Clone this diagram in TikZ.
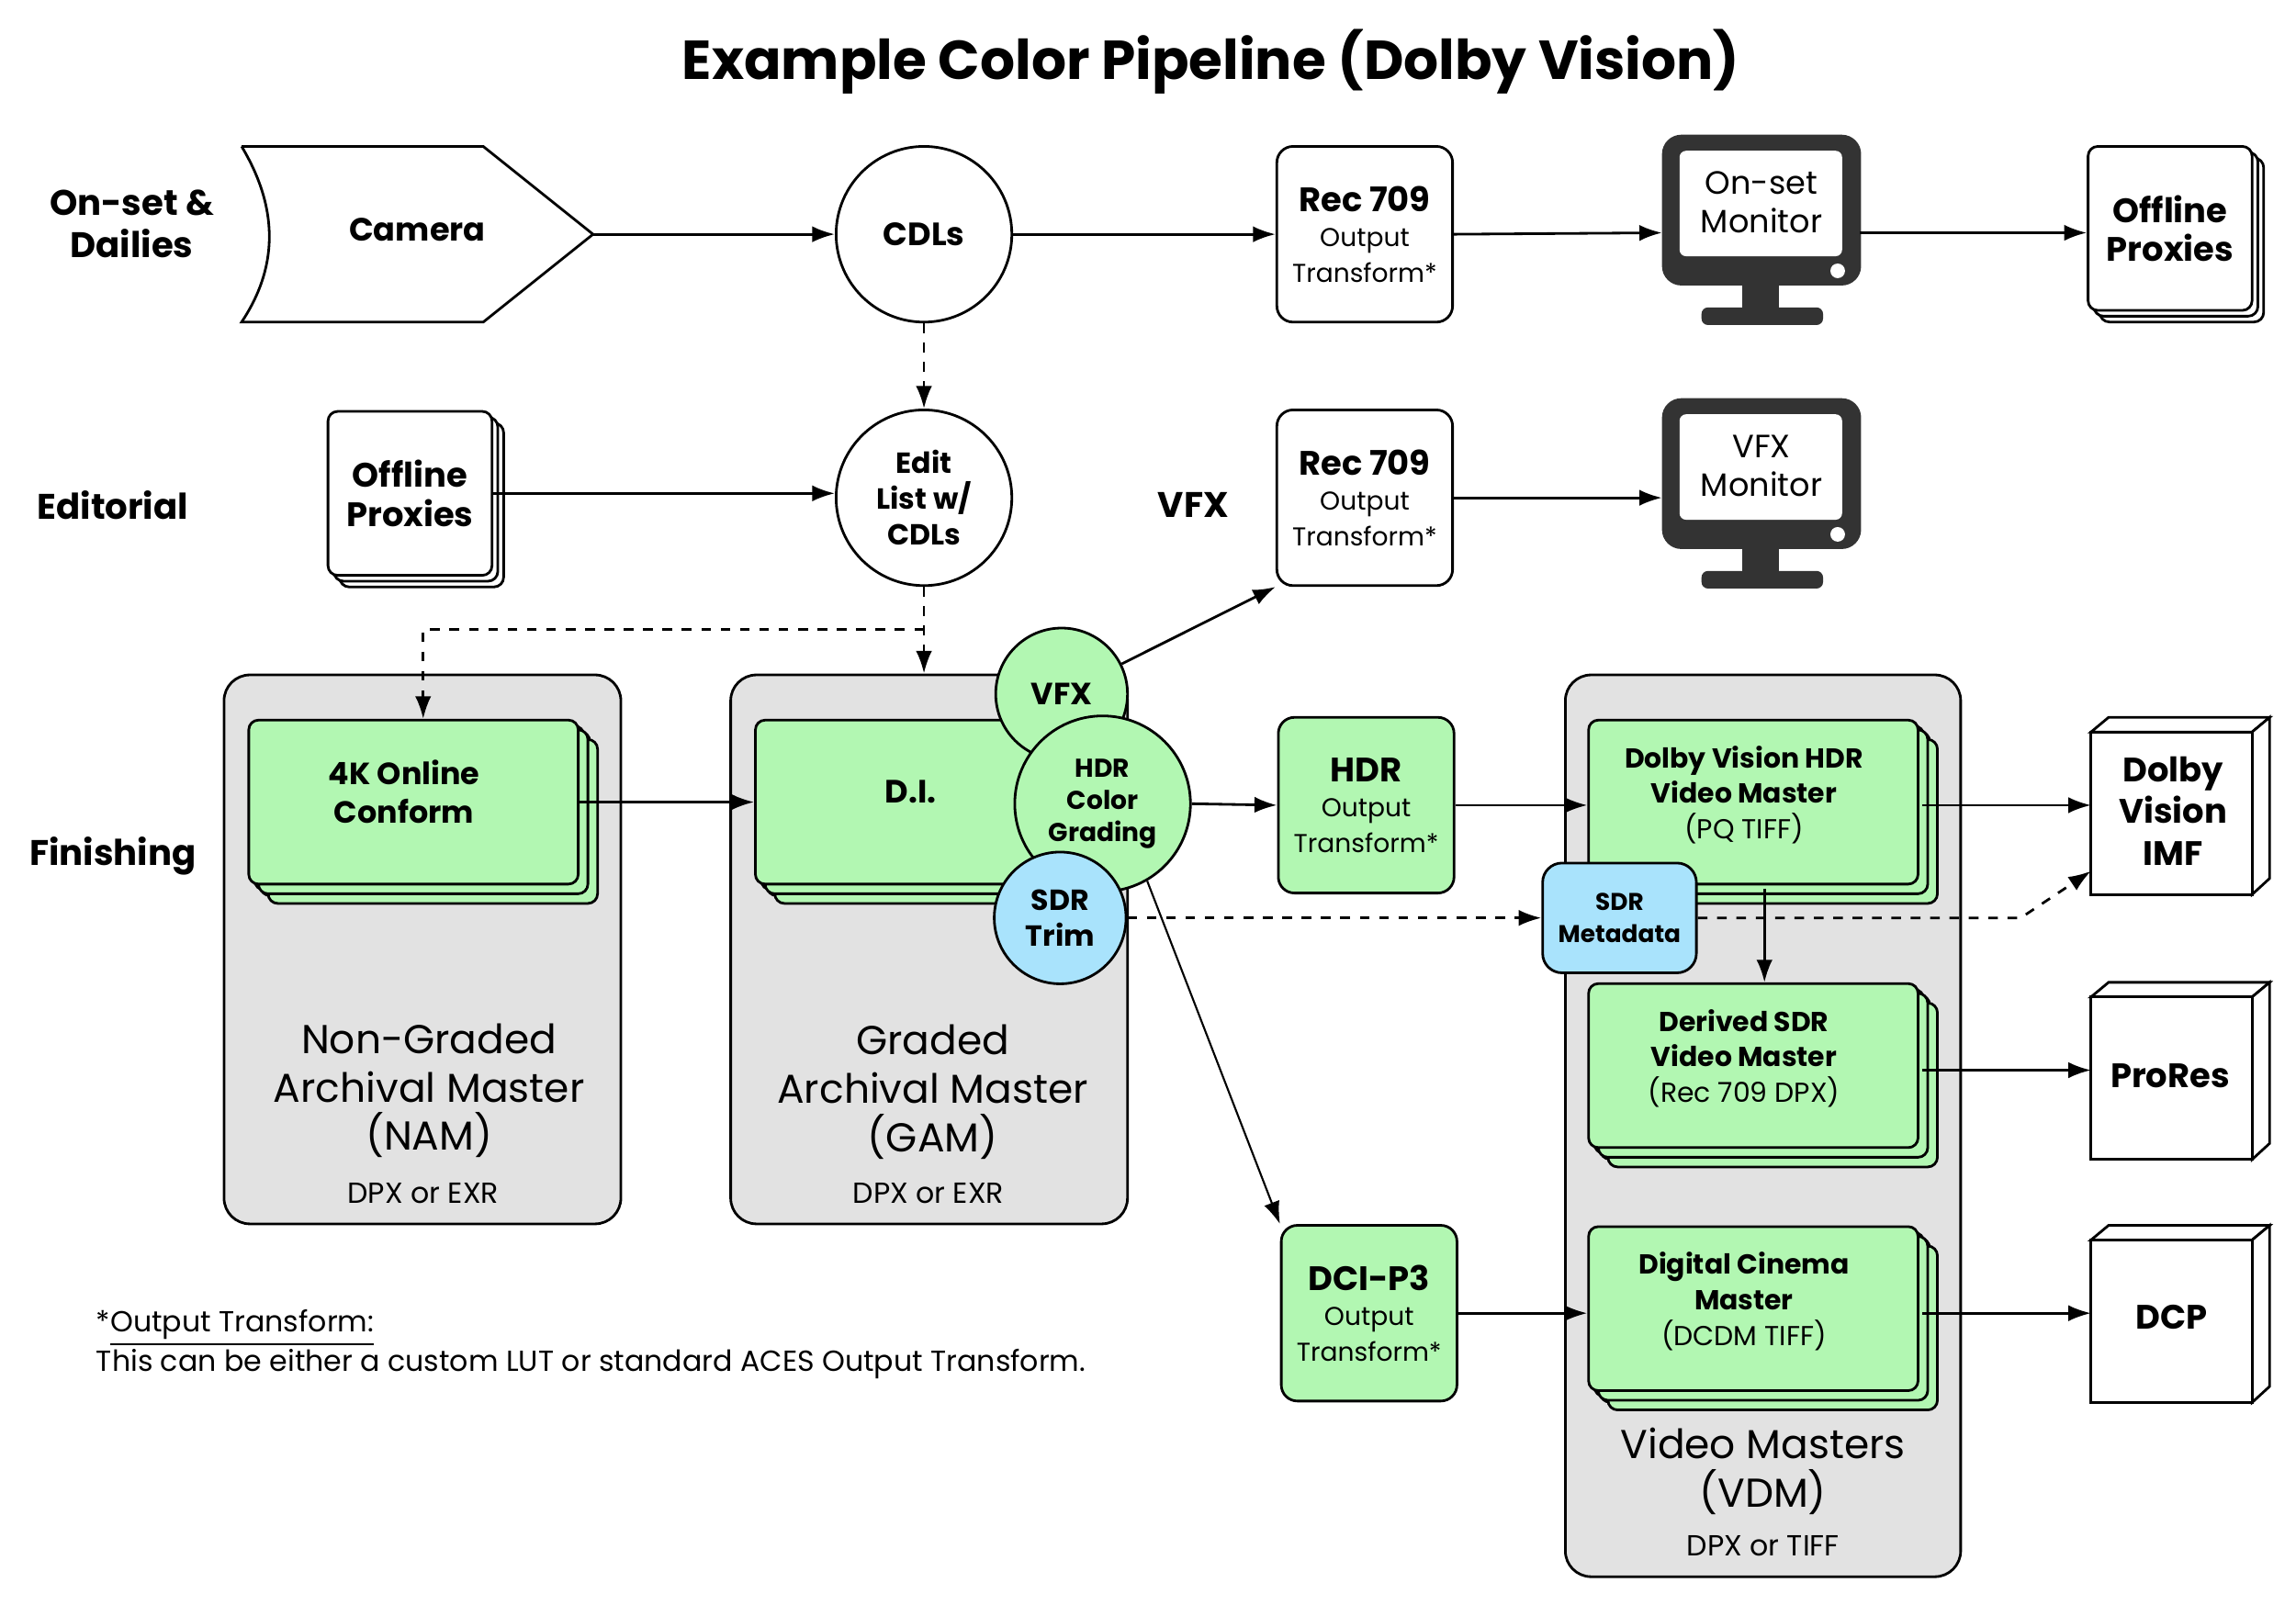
\documentclass[tikz,border=0pt]{standalone}
\usepackage{fontspec}
\setmainfont{Poppins}
\usetikzlibrary{arrows.meta,shadows,positioning}
\definecolor{mgreen}{HTML}{B2F7B2}
\definecolor{mblue}{HTML}{A9E3FC}
\definecolor{mgray}{HTML}{E2E2E2}
\definecolor{mdark}{HTML}{333333}
\newcommand{\pxu}{0.01594cm}
\tikzset{
  every node/.style={font=\fontsize{9}{11}\selectfont, align=center},
  arr/.style={-{Latex[length=7pt,width=5pt]}, thick},
  darr/.style={arr, dashed},
  box/.style={draw, thick, rounded corners=5pt, fill=white, minimum width=120*\pxu, minimum height=120*\pxu},
  circ/.style={draw, thick, circle, fill=white, minimum size=120*\pxu, inner sep=0pt},
  small circ/.style={circ, minimum size=90*\pxu},
  stack/.style={draw, thick, rounded corners=3pt, fill=white, minimum width=112*\pxu, minimum height=112*\pxu,
    double copy shadow={shadow xshift=1.8pt, shadow yshift=-1.8pt}},
  master/.style={stack, fill=mgreen, minimum width=225*\pxu, minimum height=112*\pxu,
    double copy shadow={shadow xshift=3pt, shadow yshift=-3pt}},
  panel/.style={draw, thick, rounded corners=8pt, fill=mgray},
  lab/.style={font=\fontsize{11}{13}\selectfont\bfseries},
  big/.style={font=\fontsize{12.5}{15}\selectfont},
}
\newcommand{\monitor}[2]{% center x, top y
  \fill[mdark, rounded corners=6pt] (#1-68,#2) rectangle (#1+68,#2+103);
  \fill[white, rounded corners=2pt] (#1-56,#2+11) rectangle (#1+55,#2+83);
  \fill[white] (#1+52,#2+93) circle (5);
  \fill[mdark] (#1-13,#2+103) rectangle (#1+12,#2+118);
  \fill[mdark, rounded corners=2pt] (#1-41,#2+118) rectangle (#1+42,#2+130);
}
\newcommand{\cube}[3]{% left x, top y, name
  \draw[thick, fill=white] (#1,#2+10) -- (#1+12,#2) -- (#1+122,#2) -- (#1+110,#2+10) -- cycle;
  \draw[thick, fill=white] (#1+110,#2+10) -- (#1+122,#2) -- (#1+122,#2+110) -- (#1+110,#2+121) -- cycle;
  \draw[thick, fill=white] (#1,#2+10) rectangle (#1+110,#2+121);
  \coordinate (#3) at (#1,#2+65);
}
\newcommand{\outtxt}[1]{{\fontsize{10.5}{12}\selectfont\bfseries #1}\\{\fontsize{8}{10}\selectfont Output}\\{\fontsize{8}{10}\selectfont Transform*}}
\begin{document}
\begin{tikzpicture}[x=\pxu, y=-\pxu]
\useasboundingbox (0,0) rectangle (1568,1096);
\node[font=\fontsize{17}{20}\selectfont\bfseries] (title) at (827,42) {Example Color Pipeline (Dolby Vision)};
%row labels
\node[lab] (onset) at (90,153) {On-set \&\\Dailies};
\node[lab] (editorial) at (77,345) {Editorial};
\node[lab] (finishing) at (77,585) {Finishing};
\node[lab] (vfxlab) at (815,345) {VFX};
%on-set row
\draw[thick] (165,100) -- (330,100) -- (405,160) -- (330,220) -- (165,220)
  .. controls (185,190) and (195,150) .. (165,100);
\node[font=\fontsize{10}{12}\selectfont\bfseries] (camera) at (285,157) {Camera};
\coordinate (camtip) at (405,160);
\node[circ, font=\fontsize{10}{12}\selectfont\bfseries] (cdl) at (631,160) {CDLs};
\node[box] (rec1) at (932,160) {\outtxt{Rec 709}};
\monitor{1203}{92}
\node[font=\fontsize{10}{12}\selectfont] (mon1) at (1203,138) {On-set\\Monitor};
\coordinate (mon1w) at (1135,159);
\coordinate (mon1e) at (1270,159);
\node[stack, font=\fontsize{10.5}{12}\selectfont\bfseries] (prox1) at (1482,156) {Offline\\Proxies};
%editorial row
\node[stack, font=\fontsize{10.5}{12}\selectfont\bfseries] (prox2) at (280,337) {Offline\\Proxies};
\node[circ, font=\fontsize{9}{11}\selectfont\bfseries] (edit) at (631,340) {Edit\\List w/\\CDLs};
\node[box] (rec2) at (932,340) {\outtxt{Rec 709}};
\monitor{1203}{272}
\node[font=\fontsize{10}{12}\selectfont] (mon2) at (1203,318) {VFX\\Monitor};
\coordinate (mon2w) at (1135,340);
%finishing panels
\draw[panel] (153,461) rectangle (424,836);
\draw[panel] (499,461) rectangle (770,836);
\draw[panel] (1069,461) rectangle (1339,1077);
\node[big] (namlab) at (293,745) {Non-Graded\\Archival Master\\(NAM)};
\node (namfmt) at (289,815) {DPX or EXR};
\node[big] (gamlab) at (637,746) {Graded\\Archival Master\\(GAM)};
\node (gamfmt) at (634,815) {DPX or EXR};
\node[big] (vdmlab) at (1204,1005) {Video Masters\\(VDM)};
\node (vdmfmt) at (1204,1056) {DPX or TIFF};
\node[master, anchor=north west] (conform) at (169,491) {};
\node[font=\fontsize{9.5}{12}\selectfont\bfseries] (conformtxt) at (276,541) {4K Online\\Conform};
\node[master, anchor=north west] (di) at (515,491) {};
\node[font=\fontsize{10}{12}\selectfont\bfseries] (ditxt) at (622,541) {D.I.};
\node[small circ, fill=mgreen, font=\fontsize{9.5}{11}\selectfont\bfseries] (vfx) at (725,474) {VFX};
\node[circ, fill=mgreen, font=\fontsize{8}{10}\selectfont\bfseries] (hdrgrade) at (753,549) {HDR\\Color\\Grading};
\node[small circ, fill=mblue, font=\fontsize{9}{11}\selectfont\bfseries] (sdrtrim) at (724,627) {SDR\\Trim};
\node[box, fill=mgreen] (hdrout) at (933,550) {\outtxt{HDR}};
\node[box, fill=mgreen] (dcip3) at (935,897) {\outtxt{DCI-P3}};
\node[master, anchor=north west] (dolby) at (1084,491) {};
\node[font=\fontsize{8.5}{11}\selectfont] (dolbytxt) at (1191,543) {\textbf{Dolby Vision HDR}\\\textbf{Video Master}\\(PQ TIFF)};
\node[master, anchor=north west] (derived) at (1084,671) {};
\node[font=\fontsize{8.5}{11}\selectfont] (derivedtxt) at (1191,723) {\textbf{Derived SDR}\\\textbf{Video Master}\\(Rec 709 DPX)};
\node[master, anchor=north west] (cinema) at (1084,837) {};
\node[font=\fontsize{8.5}{11}\selectfont] (cinematxt) at (1191,889) {\textbf{Digital Cinema}\\\textbf{Master}\\(DCDM TIFF)};
\node[draw, thick, rounded corners=6pt, fill=mblue, minimum width=105*\pxu, minimum height=75*\pxu, font=\fontsize{7.5}{10}\selectfont\bfseries] (sdrmeta) at (1106,627) {SDR\\Metadata};
%outputs
\cube{1428}{490}{imf}
\node[font=\fontsize{10.5}{13}\selectfont\bfseries] (imftxt) at (1484,554) {Dolby\\Vision\\IMF};
\cube{1428}{671}{prores}
\node[font=\fontsize{10.5}{13}\selectfont\bfseries] (prorestxt) at (1482,735) {ProRes};
\cube{1428}{837}{dcp}
\node[font=\fontsize{10.5}{13}\selectfont\bfseries] (dcptxt) at (1483,900) {DCP};
%footnote
\node[anchor=north west, align=left, font=\fontsize{9}{11}\selectfont] (foot) at (58,887) {*\underline{Output Transform:}\\This can be either a custom LUT or standard ACES Output Transform.};
%connectors
\draw[arr] (camtip) -- (cdl);
\draw[arr] (cdl) -- (rec1);
\draw[arr] (rec1.east) -- (mon1w);
\draw[arr] (mon1e) -- (prox1.west |- mon1e);
\draw[darr] (cdl) -- (edit);
\draw[arr] (prox2.east) -- (edit.west |- prox2.east);
\draw[arr] (rec2.east) -- (mon2w);
\coordinate (gamtop) at (631,460);
\coordinate (split) at (631,430);
\draw[darr] (edit.south) -- (gamtop);
\draw[darr] (split) -| (289,491);
\draw[arr] (vfx) -- (rec2.south west);
\draw[arr] (conform.east) -- (di.west);
\draw[arr] (hdrgrade.east) -- (hdrout.west);
\draw[arr] (hdrout.east) -- (dolby.west |- hdrout);
\draw[arr] (1313,550) -- (imf |- 0,550);
\draw[arr] (1205,607) -- (derived.north -| 1205,0);
\draw[arr] (1313,731) -- (prores |- 0,731);
\draw[arr] (dcip3.east) -- (cinema.west |- dcip3);
\draw[arr] (1313,897) -- (dcp |- 0,897);
\draw[arr, semithick] (hdrgrade.-60) -- (dcip3.north west);
\draw[darr] (sdrtrim.east) -- (sdrmeta.west);
\draw[darr] (sdrmeta.east) -- (1380,627) -- (1428,595);
\end{tikzpicture}
\end{document}
